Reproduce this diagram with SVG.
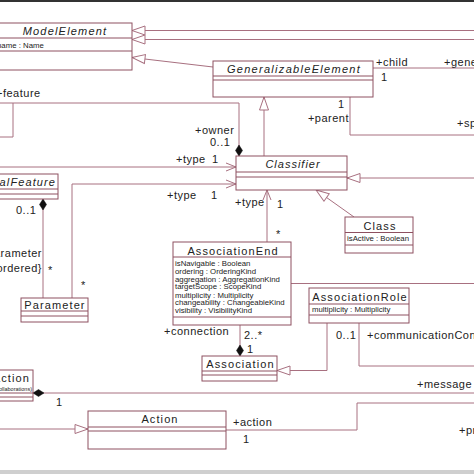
<svg xmlns="http://www.w3.org/2000/svg" width="474" height="474" viewBox="0 0 474 474">
<style>
.bg{fill:#fff}
.box{fill:#fff;stroke:#8e5060;stroke-width:1}
.dv{stroke:#8e5060;stroke-width:1;fill:none}
.ln{fill:none;stroke:#a87080;stroke-width:1}
.t{font-family:"Liberation Sans",Arial,sans-serif;fill:#222}
.title{font-size:11px;letter-spacing:1.1px;text-anchor:middle}
.it{font-style:italic}
.attr{font-size:7.8px}
.lbl{font-size:11px;letter-spacing:0.5px}
.end{text-anchor:end}
</style>
<defs>
<marker id="gen" viewBox="0 0 13 10" refX="13" refY="5" markerWidth="13" markerHeight="10" orient="auto" markerUnits="userSpaceOnUse" overflow="visible">
<path d="M0,0.5 L13,5 L0,9.5 Z" fill="#fff" stroke="#a87080" stroke-width="1"/>
</marker>
<marker id="open" viewBox="0 0 10 8" refX="10" refY="4" markerWidth="10" markerHeight="8" orient="auto" markerUnits="userSpaceOnUse" overflow="visible">
<path d="M0,0 L10,4 L0,8" fill="none" stroke="#a87080" stroke-width="1"/>
</marker>
<marker id="dia" viewBox="0 0 11 7" refX="0" refY="3.5" markerWidth="11" markerHeight="7" orient="auto" markerUnits="userSpaceOnUse" overflow="visible">
<path d="M0,3.5 L5.5,0 L11,3.5 L5.5,7 Z" fill="#111" stroke="#111" stroke-width="0.5"/>
</marker>
</defs>
<rect class="bg" x="0" y="0" width="474" height="474"/>
<rect x="0" y="0" width="474" height="2" fill="#333"/>
<rect x="0" y="470" width="474" height="4" fill="#cfcfcf"/>

<g id="connectors">
<path class="ln" d="M474,30.5 H132" marker-end="url(#gen)"/>
<path class="ln" d="M474,39.5 H132" marker-end="url(#gen)"/>
<path class="ln" d="M213,67 L132,57.5" marker-end="url(#gen)"/>
<path class="ln" d="M264,156 V97" marker-end="url(#gen)"/>
<path class="ln" d="M239,156 V103 H0" marker-start="url(#dia)"/>
<path class="ln" d="M13,103 V137 H0"/>
<path class="ln" d="M373,68 H474"/>
<path class="ln" d="M350,97 V135 H474"/>
<path class="ln" d="M474,178 H347" marker-end="url(#gen)"/>
<path class="ln" d="M354,217 L316,190" marker-end="url(#gen)"/>
<path class="ln" d="M0,167 H236" marker-end="url(#open)"/>
<path class="ln" d="M72,298 V184 H236" marker-end="url(#open)"/>
<path class="ln" d="M43,199 V298" marker-start="url(#dia)"/>
<path class="ln" d="M267,242 V190" marker-end="url(#open)"/>
<path class="ln" d="M291,283.5 H474"/>
<path class="ln" d="M240,356 V325" marker-start="url(#dia)"/>
<path class="ln" d="M327,323 V370.5 H277" marker-end="url(#gen)"/>
<path class="ln" d="M359,323 V366 H474"/>
<path class="ln" d="M33,393 H474" marker-start="url(#dia)"/>
<path class="ln" d="M0,429 H88" marker-end="url(#gen)"/>
<path class="ln" d="M226,430 H357 V403 H474"/>
</g>

<g id="labels">
<text class="t lbl" x="-4" y="97">+feature</text>
<text class="t lbl" x="376" y="66">+child</text>
<text class="t lbl" x="381" y="81">1</text>
<text class="t lbl" x="444" y="66">+generalization</text>
<text class="t lbl" x="338" y="108">1</text>
<text class="t lbl end" x="349" y="122">+parent</text>
<text class="t lbl" x="457" y="127">+specialization</text>
<text class="t lbl" x="195" y="134">+owner</text>
<text class="t lbl" x="210" y="146">0..1</text>
<text class="t lbl" x="176" y="163">+type</text>
<text class="t lbl" x="212" y="163">1</text>
<text class="t lbl" x="167" y="199">+type</text>
<text class="t lbl" x="211" y="199">1</text>
<text class="t lbl" x="235" y="206">+type</text>
<text class="t lbl" x="277" y="208">1</text>
<text class="t lbl" x="276" y="238">*</text>
<text class="t lbl" x="16" y="214">0..1</text>
<text class="t lbl end" x="42" y="257">+parameter</text>
<text class="t lbl end" x="42" y="272">{ordered}</text>
<text class="t lbl" x="48" y="274">*</text>
<text class="t lbl" x="81" y="289">*</text>
<text class="t lbl" x="164" y="335">+connection</text>
<text class="t lbl" x="244" y="339">2..*</text>
<text class="t lbl" x="247" y="353">1</text>
<text class="t lbl" x="336" y="339">0..1</text>
<text class="t lbl" x="367" y="339">+communicationConnection</text>
<text class="t lbl" x="417" y="388">+message</text>
<text class="t lbl" x="56" y="406">1</text>
<text class="t lbl" x="233" y="426">+action</text>
<text class="t lbl" x="243" y="443">1</text>
<text class="t lbl" x="459" y="434">+predecessor</text>
</g>

<g id="ModelElement">
<rect class="box" x="-20" y="23" width="152" height="47"/>
<path class="dv" d="M-20,38 H132 M-20,51 H132"/>
<text class="t title it" x="65" y="35" style="letter-spacing:1.2px">ModelElement</text>
<text class="t attr" x="-3" y="47.5">name : Name</text>
</g>

<g id="GeneralizableElement">
<rect class="box" x="213" y="61" width="160" height="36"/>
<path class="dv" d="M213,76 H373 M213,80 H373"/>
<text class="t title it" x="294" y="73" style="letter-spacing:1.3px">GeneralizableElement</text>
</g>

<g id="Classifier">
<rect class="box" x="236" y="156" width="111" height="34"/>
<path class="dv" d="M236,172 H347 M236,177 H347"/>
<text class="t title it" x="293" y="167.5" style="letter-spacing:1px">Classifier</text>
</g>

<g id="Class">
<rect class="box" x="345" y="217" width="68" height="36"/>
<path class="dv" d="M345,232.5 H413 M345,245 H413"/>
<text class="t title" x="380" y="230">Class</text>
<text class="t attr" x="347" y="240.5">isActive : Boolean</text>
</g>

<g id="BehavioralFeature">
<rect class="box" x="-60" y="174" width="118" height="25"/>
<path class="dv" d="M-60,189 H58 M-60,194 H58"/>
<text class="t title it end" x="56" y="186">BehavioralFeature</text>
</g>

<g id="Parameter">
<rect class="box" x="21" y="298" width="67" height="24"/>
<path class="dv" d="M21,311 H88 M21,316 H88"/>
<text class="t title" x="55" y="309">Parameter</text>
</g>

<g id="AssociationEnd">
<rect class="box" x="173" y="242" width="118" height="83"/>
<path class="dv" d="M173,257 H291 M173,317 H291"/>
<text class="t title" x="233" y="254.5">AssociationEnd</text>
<text class="t attr" x="175" y="266">isNavigable : Boolean</text>
<text class="t attr" x="175" y="274">ordering : OrderingKind</text>
<text class="t attr" x="175" y="281.5">aggregation : AggregationKind</text>
<text class="t attr" x="175" y="289">targetScope : ScopeKind</text>
<text class="t attr" x="175" y="297.5">multiplicity : Multiplicity</text>
<text class="t attr" x="175" y="305">changeability : ChangeableKind</text>
<text class="t attr" x="175" y="313">visibility : VisibilityKind</text>
</g>

<g id="AssociationRole">
<rect class="box" x="309" y="288" width="100" height="35"/>
<path class="dv" d="M309,304 H409 M309,315 H409"/>
<text class="t title" x="360" y="301">AssociationRole</text>
<text class="t attr" x="312" y="312">multiplicity : Multiplicity</text>
</g>

<g id="Association">
<rect class="box" x="202" y="356" width="75" height="25"/>
<path class="dv" d="M202,371 H277 M202,375 H277"/>
<text class="t title" x="240.5" y="368">Association</text>
</g>

<g id="Interaction">
<rect class="box" x="-60" y="370" width="93" height="31"/>
<path class="dv" d="M-60,393 H33 M-60,397 H33"/>
<text class="t title end" x="30" y="382">Interaction</text>
<text class="t end" x="32" y="391" style="font-size:5.5px">(from Collaborations)</text>
</g>

<g id="Action">
<rect class="box" x="88" y="411" width="138" height="38"/>
<path class="dv" d="M88,427 H226 M88,431 H226"/>
<text class="t title" x="160" y="422.5">Action</text>
</g>
</svg>
